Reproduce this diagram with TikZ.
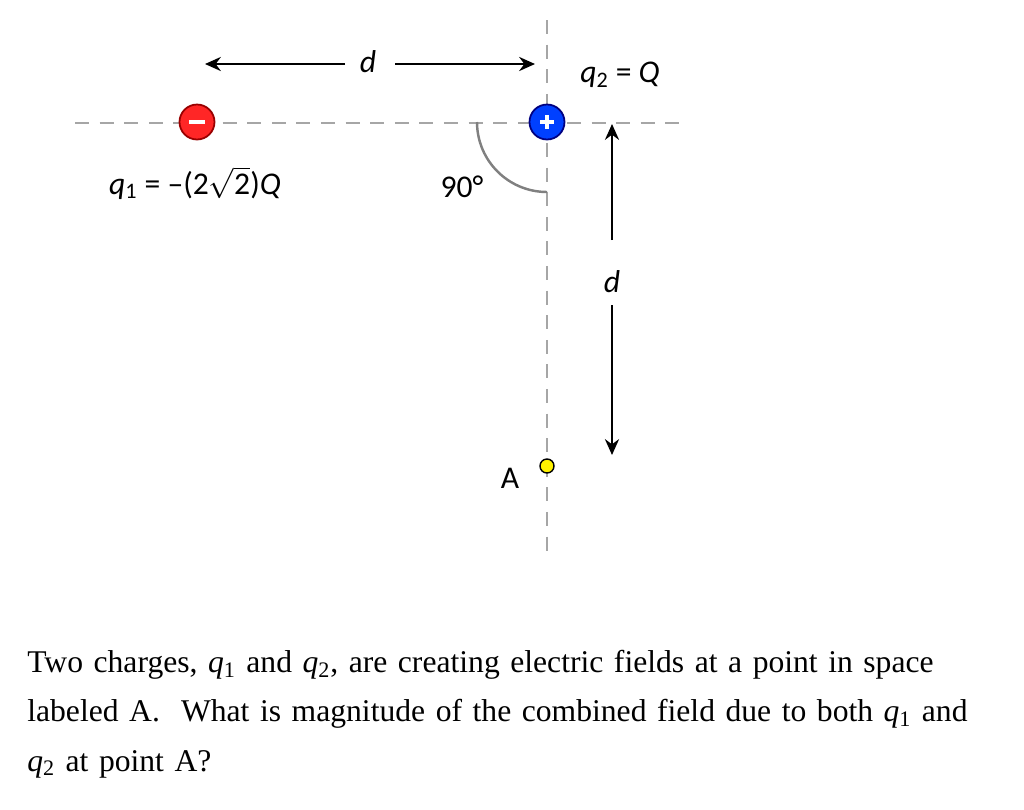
\documentclass[tikz,border=0pt]{standalone}
\usepackage{fontspec}
\setmainfont{Liberation Serif}
\newfontfamily\lab{Carlito}
\usetikzlibrary{arrows.meta}
\begin{document}
\begin{tikzpicture}[x=0.02cm,y=-0.02cm,
  guide/.style={gray!70,dashed,dash pattern=on 8pt off 6pt,line width=0.8pt},
  dimarrow/.style={-{Stealth[length=9pt,width=8pt]},line width=1.4pt},
  lbl/.style={font=\lab\fontsize{18}{20}\selectfont,inner sep=0pt},
  qtext/.style={font=\fontsize{18}{28}\selectfont,align=left,anchor=north west,inner sep=0pt,text width=19.2cm}]
\useasboundingbox (0,0) rectangle (1024,809);
\coordinate (hl) at (75,123); \coordinate (hr) at (685,123);
\coordinate (vt) at (547,20); \coordinate (vb) at (547,560);
\draw[guide] (hl) -- (hr);
\draw[guide] (vt) -- (vb);
\draw[gray,line width=1.4pt] (477,122) arc[start angle=180,end angle=90,radius=70];
\node[lbl] (ang) at (462,187) {90°};
\node[circle,draw=red!60!black,fill=red!85!white,inner sep=0pt,minimum width=0.7cm,line width=1pt] (q1) at (197,122) {};
\draw[white,line width=2.5pt] ([xshift=-0.16cm]q1.center) -- ([xshift=0.16cm]q1.center);
\node[circle,draw=blue!50!black,fill=blue!75!cyan,inner sep=0pt,minimum width=0.7cm,line width=1pt] (q2) at (547,122) {};
\draw[white,line width=2pt] ([xshift=-0.14cm]q2.center) -- ([xshift=0.14cm]q2.center) ([yshift=-0.14cm]q2.center) -- ([yshift=0.14cm]q2.center);
\node[lbl] (d1) at (368,62) {\itshape d};
\coordinate (a1) at (205,64); \coordinate (a2) at (535,64);
\draw[dimarrow] (345,64) -- (a1);
\draw[dimarrow] (395,64) -- (a2);
\node[lbl] (q2l) at (620,75) {\itshape q\textsubscript{\upshape 2}\upshape\ =\ \itshape Q};
\node[lbl] (q1l) at (195,183) {\itshape q\textsubscript{\upshape 1}\upshape\ =\ –(2$\sqrt{\mbox{\lab 2}}$)\itshape Q};
\node[lbl] (d2) at (612,282) {\itshape d};
\draw[dimarrow] (612,240) -- (612,124);
\draw[dimarrow] (612,305) -- (612,455);
\node[circle,draw=black,fill=yellow,inner sep=0pt,minimum width=0.28cm,line width=0.8pt] (A) at (547,466) {};
\node[lbl] (Al) at (510,478) {A};
\node[qtext] (txt) at (27,650) {\raggedright Two charges, \textit{q}\textsubscript{1} and \textit{q}\textsubscript{2}, are creating electric fields at a point in space labeled A.\ \ What is magnitude of the combined field due to both \textit{q}\textsubscript{1} and \textit{q}\textsubscript{2} at point A?};
\end{tikzpicture}
\end{document}
